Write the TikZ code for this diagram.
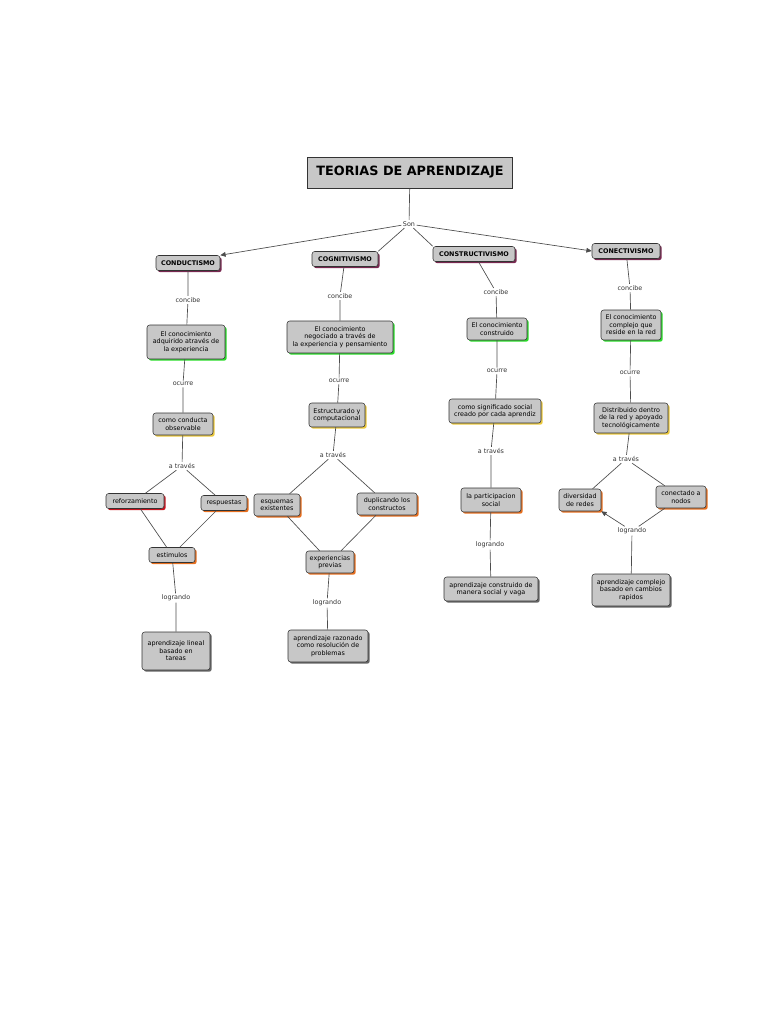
\documentclass[tikz,border=0pt]{standalone}
\usepackage{fontspec}
\setmainfont{DejaVu Sans}
\usetikzlibrary{shadows,arrows.meta}
\begin{document}
\begin{tikzpicture}[x=0.75pt,y=-0.75pt,
  box/.style={draw=black!80,line width=0.4pt,fill=black!22,rounded corners=2pt,align=center,
    font=\fontsize{4.8}{5.6}\selectfont,inner sep=1pt},
  sh/.style={drop shadow={shadow xshift=1.3pt,shadow yshift=-1.3pt,fill=#1,opacity=1}},
  lab/.style={font=\fontsize{4.8}{5.6}\selectfont,inner sep=1pt,text=black!80},
  ln/.style={draw=black!70,line width=0.5pt},
  arr/.style={ln,-{Triangle[length=4pt,width=3.5pt]}}]
\useasboundingbox (0,0) rectangle (768,1024);
\definecolor{mar}{RGB}{120,40,80}
\definecolor{grn}{RGB}{40,220,40}
\definecolor{yel}{RGB}{235,200,60}
\definecolor{org}{RGB}{230,110,30}
\definecolor{redd}{RGB}{200,20,30}
\node[draw=black!80,fill=black!22,minimum width=205*0.75pt,minimum height=31*0.75pt,font=\bfseries\fontsize{9.6}{11}\selectfont,anchor=north,inner sep=2pt,text depth=0pt] (t) at (410,157) {\raisebox{3pt}{TEORIAS DE APRENDIZAJE}};
\node[lab] (son) at (409,224) {Son};
% level 1
\node[box,sh=mar,font=\bfseries\fontsize{4.8}{5.6}\selectfont,minimum width=64*0.75pt,minimum height=15*0.75pt] (c1) at (188,263) {CONDUCTISMO};
\node[box,sh=mar,font=\bfseries\fontsize{4.8}{5.6}\selectfont,minimum width=66*0.75pt,minimum height=15*0.75pt] (c2) at (345,259) {COGNITIVISMO};
\node[box,sh=mar,font=\bfseries\fontsize{4.8}{5.6}\selectfont,minimum width=82*0.75pt,minimum height=15*0.75pt] (c3) at (474,254) {CONSTRUCTIVISMO};
\node[box,sh=mar,font=\bfseries\fontsize{4.8}{5.6}\selectfont,minimum width=68*0.75pt,minimum height=15*0.75pt] (c4) at (626,251) {CONECTIVISMO};
\draw[ln] (t) -- (son);
\draw[arr] (son) -- (c1.north east);
\draw[ln] (son) -- (c2.north east);
\draw[ln] (son) -- (c3.north west);
\draw[arr] (son) -- (c4.west);
% column 1
\node[lab] (a1) at (188,300) {concibe};
\node[box,sh=grn,minimum width=78*0.75pt,minimum height=34*0.75pt] (b1) at (186,342) {El conocimiento\\adquirido através de\\la experiencia};
\node[lab] (a2) at (183,384) {ocurre};
\node[box,sh=yel,minimum width=60*0.75pt,minimum height=22*0.75pt] (b2) at (183,424) {como conducta\\observable};
\node[lab] (a3) at (182,466) {a través};
\node[box,sh=redd,minimum width=58*0.75pt,minimum height=15*0.75pt] (b3) at (135,501) {reforzamiento};
\node[box,sh=org,minimum width=46*0.75pt,minimum height=15*0.75pt] (b4) at (224,503) {respuestas};
\node[box,sh=org,minimum width=46*0.75pt,minimum height=15*0.75pt] (b5) at (172,555) {estimulos};
\node[lab] (a4) at (176,598) {logrando};
\node[box,sh=black!60,minimum width=68*0.75pt,minimum height=38*0.75pt] (b6) at (176,651) {aprendizaje lineal\\basado en\\tareas};
\draw[ln] (c1) -- (a1) -- (b1) -- (a2) -- (b2) -- (a3);
\draw[ln] (a3) -- (b3); \draw[ln] (a3) -- (b4);
\draw[ln] (b3) -- (b5); \draw[ln] (b4) -- (b5);
\draw[ln] (b5) -- (a4) -- (b6);
% column 2
\node[lab] (d1) at (340,296) {concibe};
\node[box,sh=grn,minimum width=106*0.75pt,minimum height=32*0.75pt] (e1) at (340,337) {El conocimiento\\negociado a través de\\la experiencia y pensamiento};
\node[lab] (d2) at (339,381) {ocurre};
\node[box,sh=yel,minimum width=56*0.75pt,minimum height=24*0.75pt] (e2) at (337,415) {Estructurado y\\computacional};
\node[lab] (d3) at (333,455) {a través};
\node[box,sh=org,minimum width=46*0.75pt,minimum height=22*0.75pt] (e3) at (277,505) {esquemas\\existentes};
\node[box,sh=org,minimum width=60*0.75pt,minimum height=22*0.75pt] (e4) at (387,504) {duplicando los\\constructos};
\node[box,sh=org,minimum width=48*0.75pt,minimum height=22*0.75pt] (e5) at (330,562) {experiencias\\previas};
\node[lab] (d4) at (327,603) {logrando};
\node[box,sh=black!60,minimum width=80*0.75pt,minimum height=32*0.75pt] (e6) at (328,646) {aprendizaje razonado\\como resolución de\\problemas};
\draw[ln] (c2) -- (d1) -- (e1) -- (d2) -- (e2) -- (d3);
\draw[ln] (d3) -- (e3); \draw[ln] (d3) -- (e4);
\draw[ln] (e3) -- (e5); \draw[ln] (e4) -- (e5);
\draw[ln] (e5) -- (d4) -- (e6);
% column 3
\node[lab] (f1) at (496,292) {concibe};
\node[box,sh=grn,minimum width=60*0.75pt,minimum height=22*0.75pt] (g1) at (497,329) {El conocimiento\\construido};
\node[lab] (f2) at (497,371) {ocurre};
\node[box,sh=yel,minimum width=92*0.75pt,minimum height=24*0.75pt] (g2) at (495,411) {como significado social\\creado por cada aprendiz};
\node[lab] (f3) at (491,451) {a través};
\node[box,sh=org,minimum width=60*0.75pt,minimum height=24*0.75pt] (g3) at (491,500) {la participacion\\social};
\node[lab] (f4) at (490,545) {logrando};
\node[box,sh=black!60,minimum width=94*0.75pt,minimum height=24*0.75pt] (g4) at (491,589) {aprendizaje construido de\\manera social y vaga};
\draw[ln] (c3) -- (f1) -- (g1) -- (f2) -- (g2) -- (f3) -- (g3) -- (f4) -- (g4);
% column 4
\node[lab] (h1) at (630,288) {concibe};
\node[box,sh=grn,minimum width=60*0.75pt,minimum height=30*0.75pt] (k1) at (631,325) {El conocimiento\\complejo que\\reside en la red};
\node[lab] (h2) at (630,373) {ocurre};
\node[box,sh=yel,minimum width=74*0.75pt,minimum height=30*0.75pt] (k2) at (631,418) {Distribuido dentro\\de la red y apoyado\\tecnológicamente};
\node[lab] (h3) at (626,459) {a través};
\node[box,sh=org,minimum width=42*0.75pt,minimum height=22*0.75pt] (k3) at (580,500) {diversidad\\de redes};
\node[box,sh=org,minimum width=50*0.75pt,minimum height=22*0.75pt] (k4) at (681,497) {conectado a\\nodos};
\node[lab] (h4) at (632,531) {logrando};
\node[box,sh=black!60,minimum width=78*0.75pt,minimum height=32*0.75pt] (k5) at (631,590) {aprendizaje complejo\\basado en cambios\\rapidos};
\draw[ln] (c4) -- (h1) -- (k1) -- (h2) -- (k2) -- (h3);
\draw[ln] (h3) -- (k3); \draw[ln] (h3) -- (k4);
\draw[ln] (k4) -- (h4); \draw[arr] (h4) -- (k3.south east);
\draw[ln] (h4) -- (k5);
\end{tikzpicture}
\end{document}
